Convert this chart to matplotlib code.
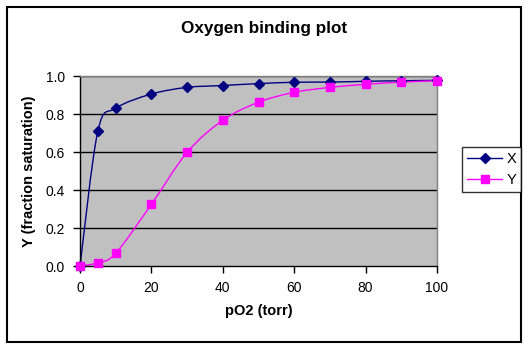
import numpy as np
import matplotlib
matplotlib.use("Agg")
import matplotlib.pyplot as plt
from matplotlib.path import Path
from matplotlib.patches import PathPatch, Rectangle
from matplotlib.lines import Line2D

plt.rcParams['font.family'] = ['Liberation Sans', 'DejaVu Sans']

po2 = [0, 5, 10, 20, 30, 40, 50, 60, 70, 80, 90, 100]
sat_x = [0.0, 0.71, 0.83, 0.905, 0.94, 0.95, 0.96, 0.967, 0.968, 0.972, 0.975, 0.977]
sat_y = [0.0, 0.017, 0.067, 0.325, 0.598, 0.767, 0.862, 0.914, 0.94, 0.956, 0.968, 0.975]
series_names = ["X", "Y"]
xticks = [0, 20, 40, 60, 80, 100]
yticks = [0.0, 0.2, 0.4, 0.6, 0.8, 1.0]

NAVY = "#000080"
MAGENTA = "#FF00FF"


def smooth_path(xs, ys):
    """Excel-style smoothed line: cubic Bezier segments through the points."""
    pts = np.column_stack([xs, ys]).astype(float)
    n = len(pts)
    verts = [pts[0]]
    codes = [Path.MOVETO]
    for i in range(n - 1):
        p0 = pts[i - 1] if i > 0 else pts[i]
        p1, p2 = pts[i], pts[i + 1]
        p3 = pts[i + 2] if i + 2 < n else pts[i + 1]
        c1 = p1 + (p2 - p0) / 6.0
        c2 = p2 - (p3 - p1) / 6.0
        verts += [c1, c2, p2]
        codes += [Path.CURVE4] * 3
    return Path(verts, codes)


fig = plt.figure(figsize=(5.29, 3.48), dpi=100)
W, H = 529, 348
ax = fig.add_axes([80 / W, 1 - 266 / H, (437 - 80) / W, (266 - 76) / H])
ax.set_facecolor("#C0C0C0")
ax.set_xlim(0, 100)
ax.set_ylim(0, 1.0)

for v in yticks[1:]:
    ax.axhline(v, color="black", lw=1.0, zorder=1)

for ys, col, mk, ms in [(sat_x, NAVY, "D", 5), (sat_y, MAGENTA, "s", 5.5)]:
    ax.add_patch(PathPatch(smooth_path(po2, ys), fill=False, edgecolor=col, lw=1.0, zorder=2,
                           clip_on=False))
    ax.plot(po2, ys, ls="none", marker=mk, ms=ms, color=col, mec=col, zorder=3, clip_on=False)

ax.set_xticks(xticks)
ax.set_yticks(yticks)
ax.set_yticklabels(["%.1f" % v for v in yticks])
ax.tick_params(direction="out", length=5, width=1, colors="black", labelsize=10, pad=6)
for s in ["left", "bottom"]:
    ax.spines[s].set_color("black")
    ax.spines[s].set_linewidth(1.0)
for s in ["top", "right"]:
    ax.spines[s].set_color("#808080")
    ax.spines[s].set_linewidth(1.0)

ax.set_xlabel("pO2 (torr)", fontsize=10.5, fontweight="bold", labelpad=6)
ax.set_ylabel("Y (fraction saturation)", fontsize=10.5, fontweight="bold", labelpad=7)
fig.text(264 / W, 1 - 28 / H, "Oxygen binding plot", ha="center", va="center",
         fontsize=12.3, fontweight="bold")

handles = [Line2D([], [], color=NAVY, marker="D", ms=5, lw=1),
           Line2D([], [], color=MAGENTA, marker="s", ms=5.5, lw=1)]
leg = fig.legend(handles, series_names, loc="upper left",
                 bbox_to_anchor=(462 / W, 1 - 147 / H), fontsize=10.5, frameon=True,
                 fancybox=False, handlelength=2.4, handletextpad=0.3, borderpad=0.35,
                 labelspacing=0.45, borderaxespad=0)
leg.get_frame().set_edgecolor("black")
leg.get_frame().set_linewidth(1.0)

fig.patches.append(Rectangle((6.5 / W, 6.5 / H), (521 - 6.5) / W, (341 - 6.5) / H,
                             transform=fig.transFigure, fill=False, edgecolor="black", lw=1.5))

fig.savefig("out.png", dpi=100)
